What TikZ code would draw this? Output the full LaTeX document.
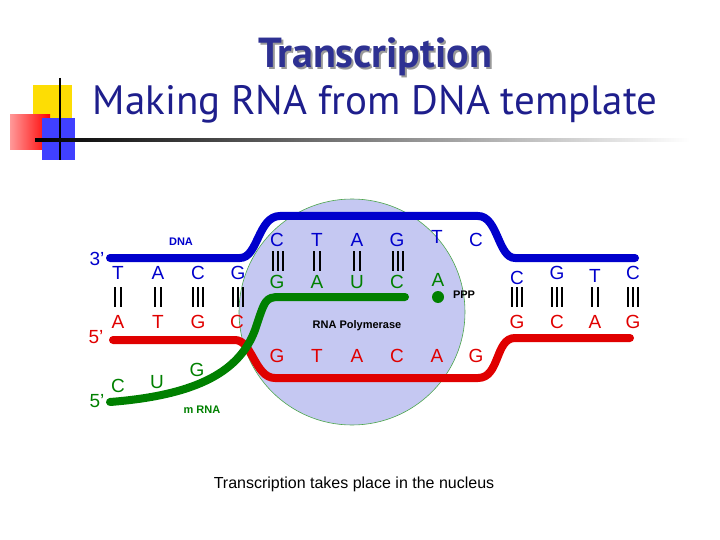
\documentclass[tikz,border=0pt]{standalone}
\usepackage{fontspec}
\setmainfont{Liberation Sans}
\newfontfamily\ttl{PT Sans}
\usetikzlibrary{shadings}
\definecolor{tblue}{HTML}{2E3192}
\definecolor{sblue}{HTML}{1E1E8C}
\definecolor{dblue}{HTML}{0000CC}
\definecolor{dred}{HTML}{E00000}
\definecolor{dgreen}{HTML}{008000}
\definecolor{bub}{HTML}{C5C8F2}
\begin{document}
\begin{tikzpicture}[x=1pt,y=-1pt,
  strand/.style={line width=8pt,line cap=round,line join=round},
  base/.style={font=\fontsize{19}{19}\selectfont,inner sep=0pt},
  bar/.style={line width=2.6pt,black},
  lab/.style={font=\bfseries\fontsize{11}{11}\selectfont,inner sep=0pt}]
\useasboundingbox (0,0) rectangle (720,540);
% decoration
\fill[yellow!80!orange] (33,85) rectangle (72,125);
\shade[left color=red!40,right color=red] (10,115) rectangle (50,150);
\fill[blue!75] (42,118) rectangle (75,160);
\draw[line width=1.5pt] (60,78) -- (60,160);
\shade[left color=black,right color=white] (35,139) rectangle (690,141.5);
% titles
\node[font=\ttl\bfseries\fontsize{42}{42}\selectfont,text=black!40] at (377,59) {Transcription};
\node (title) [font=\ttl\bfseries\fontsize{42}{42}\selectfont,text=tblue] at (375,57) {Transcription};
\node (sub) [font=\ttl\fontsize{41}{41}\selectfont,text=sblue] at (375,104) {Making RNA from DNA template};
% bubble
\node (bub) [circle,fill=bub,draw=dgreen!70,line width=0.6pt,minimum size=226pt,inner sep=0pt] at (352,312) {};
% strands
\draw[strand,dblue] (110,258) -- (240,258) .. controls (258,258) and (258,216) .. (280,216) -- (478,216) .. controls (498,216) and (498,258) .. (515,258) -- (635,258);
\draw[strand,dred] (113,340) -- (235,340) .. controls (252,340) and (255,378) .. (275,378) -- (478,378) .. controls (500,378) and (495,338) .. (515,338) -- (630,338);
\draw[strand,dgreen] (110,402) .. controls (200,395) and (240,370) .. (255,330) .. controls (265,300) and (265,297) .. (280,297) -- (405,297);
\fill[dgreen] (438,297) circle (6pt);
% letters
\foreach \x/\t in {118/T,158/A,198/C,238/G} \node[base,text=dblue] at (\x,273) {\t};
\foreach \x/\t in {118/A,158/T,198/G,237/C} \node[base,text=dred] at (\x,322) {\t};
\foreach \x/\t in {277/C,317/T,357/A,397/G} \node[base,text=dblue] at (\x,240) {\t};
\node[base,text=dblue] at (437,237) {T};
\node[base,text=dblue] at (476,240) {C};
\foreach \x/\t in {277/G,317/A,357/U,397/C} \node[base,text=dgreen] at (\x,282) {\t};
\node[base,text=dgreen] at (438,280) {A};
\foreach \x/\t in {277/G,317/T,357/A,397/C,437/A,476/G} \node[base,text=dred] at (\x,356) {\t};
\foreach \x/\t/\y in {517/C/278,557/G/273,595/T/276,633/C/273} \node[base,text=dblue] at (\x,\y) {\t};
\foreach \x/\t in {517/G,557/C,595/A,633/G} \node[base,text=dred] at (\x,322) {\t};
\node[base,text=dgreen] at (118,386) {C};
\node[base,text=dgreen] at (157,382) {U};
\node[base,text=dgreen] at (197,370) {G};
\node[base,text=dblue] at (97,259) {3'};
\node[base,text=dred] at (96,337) {5'};
\node[base,text=dgreen] at (97,401) {5'};
% bars
\foreach \x in {118,158,595} {\draw[bar] (\x-3,287) -- (\x-3,307); \draw[bar] (\x+3,287) -- (\x+3,307);}
\foreach \x in {198,238,517,557,633} {\draw[bar] (\x-5,287) -- (\x-5,307); \draw[bar] (\x,287) -- (\x,307); \draw[bar] (\x+5,287) -- (\x+5,307);}
\foreach \x in {278,398} {\draw[bar] (\x-5,251) -- (\x-5,271); \draw[bar] (\x,251) -- (\x,271); \draw[bar] (\x+5,251) -- (\x+5,271);}
\foreach \x in {317,357} {\draw[bar] (\x-3,251) -- (\x-3,271); \draw[bar] (\x+3,251) -- (\x+3,271);}
% labels
\node[lab,text=dblue] at (181,242) {DNA};
\node[lab] at (357,326) {RNA Polymerase};
\node[lab] at (464,295) {PPP};
\node[lab,text=dgreen] at (202,410) {m RNA};
\node[font=\fontsize{16}{16}\selectfont] at (354,484) {Transcription takes place in the nucleus};
\end{tikzpicture}
\end{document}
